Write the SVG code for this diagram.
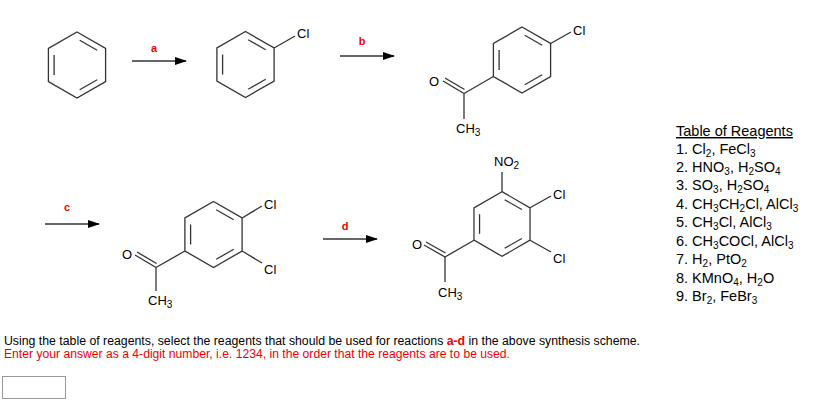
<svg xmlns="http://www.w3.org/2000/svg" width="823" height="409" viewBox="0 0 823 409">
<style>
.b{stroke:#333;stroke-width:1.3;fill:none}
.t{font-family:"Liberation Sans",Arial,sans-serif;font-size:13px;fill:#000}
.r{font-family:"Liberation Sans",Arial,sans-serif;font-size:11px;font-weight:bold;fill:#e00;text-anchor:middle}
.g{font-family:"Liberation Sans",Arial,sans-serif;font-size:14.5px;fill:#000}
.s{font-size:10px}
.q{font-family:"Liberation Sans",Arial,sans-serif;font-size:12.5px}
</style>
<defs>
<g id="ring" class="b">
<polygon points="0,-33 28.6,-16.5 28.6,16.5 0,33 -28.6,16.5 -28.6,-16.5"/>
<line x1="-22.9" y1="-10" x2="-22.9" y2="10"/>
<line x1="2.7" y1="-24.8" x2="20.2" y2="-14.8"/>
<line x1="20.2" y1="14.8" x2="2.7" y2="24.8"/>
</g>
<marker id="ah" markerWidth="12" markerHeight="8" refX="11" refY="4" orient="auto" markerUnits="userSpaceOnUse"><path d="M0,0 L12,4 L0,8 Z" fill="#000"/></marker>
</defs>
<rect width="823" height="409" fill="#fff"/>
<g id="connectors">
<line x1="132" y1="61" x2="186" y2="61" stroke="#333" stroke-width="1.5" marker-end="url(#ah)"/>
<text class="r" x="154" y="52">a</text>
<line x1="340" y1="56" x2="394" y2="56" stroke="#333" stroke-width="1.5" marker-end="url(#ah)"/>
<text class="r" x="362" y="45">b</text>
<line x1="45" y1="224" x2="99" y2="224" stroke="#333" stroke-width="1.5" marker-end="url(#ah)"/>
<text class="r" x="67" y="211">c</text>
<line x1="323" y1="239" x2="377" y2="239" stroke="#333" stroke-width="1.5" marker-end="url(#ah)"/>
<text class="r" x="345" y="230">d</text>
</g>
<g id="benzene"><use href="#ring" transform="translate(77,65)"/></g>
<g id="chlorobenzene">
<use href="#ring" transform="translate(245.5,64.5)"/>
<line class="b" x1="274.1" y1="48" x2="295" y2="36"/>
<text class="t" x="297" y="38">Cl</text>
</g>
<g id="chloroacetophenone">
<use href="#ring" transform="translate(522,60)"/>
<line class="b" x1="550.6" y1="43.5" x2="571" y2="32"/>
<text class="t" x="573" y="35">Cl</text>
<line class="b" x1="493.4" y1="76.5" x2="464" y2="93.5"/>
<line class="b" x1="464" y1="93.5" x2="443" y2="81"/>
<line class="b" x1="464.5" y1="89.5" x2="445" y2="78"/>
<text class="t" x="434" y="86" text-anchor="middle">O</text>
<line class="b" x1="464" y1="93.5" x2="464" y2="119"/>
<text class="t" x="456" y="133">CH<tspan class="s" dy="3">3</tspan></text>
</g>
<g id="dichloroacetophenone">
<use href="#ring" transform="translate(213.5,234.5)"/>
<line class="b" x1="242.1" y1="218" x2="262" y2="206"/>
<text class="t" x="264" y="209">Cl</text>
<line class="b" x1="242.1" y1="251" x2="262" y2="263"/>
<text class="t" x="264" y="274">Cl</text>
<line class="b" x1="184.9" y1="251" x2="156" y2="267.5"/>
<line class="b" x1="156" y1="267.5" x2="135" y2="255"/>
<line class="b" x1="156.5" y1="263.5" x2="137" y2="252"/>
<text class="t" x="127" y="259" text-anchor="middle">O</text>
<line class="b" x1="156" y1="267.5" x2="156" y2="291"/>
<text class="t" x="148" y="305">CH<tspan class="s" dy="3">3</tspan></text>
</g>
<g id="nitro">
<use href="#ring" transform="translate(502,224) scale(0.98)"/>
<line class="b" x1="502" y1="191.5" x2="502" y2="172"/>
<text class="t" x="494" y="166">NO<tspan class="s" dy="3">2</tspan></text>
<line class="b" x1="530" y1="207.8" x2="551" y2="196"/>
<text class="t" x="553" y="199">Cl</text>
<line class="b" x1="530" y1="240.2" x2="551" y2="252"/>
<text class="t" x="553" y="263">Cl</text>
<line class="b" x1="474" y1="240.2" x2="445" y2="257"/>
<line class="b" x1="445" y1="257" x2="424" y2="245"/>
<line class="b" x1="445.5" y1="253" x2="426" y2="242"/>
<text class="t" x="417" y="249" text-anchor="middle">O</text>
<line class="b" x1="445" y1="257" x2="445" y2="282"/>
<text class="t" x="438" y="297">CH<tspan class="s" dy="3">3</tspan></text>
</g>
<g id="table">
<text class="g" x="676" y="136" text-decoration="underline">Table of Reagents</text>
<text class="g" x="676" y="154">1. Cl<tspan class="s" dy="3">2</tspan><tspan dy="-3">, FeCl</tspan><tspan class="s" dy="3">3</tspan></text>
<text class="g" x="676" y="172">2. HNO<tspan class="s" dy="3">3</tspan><tspan dy="-3">, H</tspan><tspan class="s" dy="3">2</tspan><tspan dy="-3">SO</tspan><tspan class="s" dy="3">4</tspan></text>
<text class="g" x="676" y="190">3. SO<tspan class="s" dy="3">3</tspan><tspan dy="-3">, H</tspan><tspan class="s" dy="3">2</tspan><tspan dy="-3">SO</tspan><tspan class="s" dy="3">4</tspan></text>
<text class="g" x="676" y="209">4. CH<tspan class="s" dy="3">3</tspan><tspan dy="-3">CH</tspan><tspan class="s" dy="3">2</tspan><tspan dy="-3">Cl, AlCl</tspan><tspan class="s" dy="3">3</tspan></text>
<text class="g" x="676" y="227">5. CH<tspan class="s" dy="3">3</tspan><tspan dy="-3">Cl, AlCl</tspan><tspan class="s" dy="3">3</tspan></text>
<text class="g" x="676" y="246">6. CH<tspan class="s" dy="3">3</tspan><tspan dy="-3">COCl, AlCl</tspan><tspan class="s" dy="3">3</tspan></text>
<text class="g" x="676" y="264">7. H<tspan class="s" dy="3">2</tspan><tspan dy="-3">, PtO</tspan><tspan class="s" dy="3">2</tspan></text>
<text class="g" x="676" y="283">8. KMnO<tspan class="s" dy="3">4</tspan><tspan dy="-3">, H</tspan><tspan class="s" dy="3">2</tspan><tspan dy="-3">O</tspan></text>
<text class="g" x="676" y="301">9. Br<tspan class="s" dy="3">2</tspan><tspan dy="-3">, FeBr</tspan><tspan class="s" dy="3">3</tspan></text>
</g>
<g id="question">
<text class="q" x="4" y="345" fill="#000" textLength="636" lengthAdjust="spacingAndGlyphs">Using the table of reagents, select the reagents that should be used for reactions <tspan fill="#e00" font-weight="bold">a-d</tspan> in the above synthesis scheme.</text>
<text class="q" x="4" y="358" fill="#e00" textLength="506" lengthAdjust="spacingAndGlyphs">Enter your answer as a 4-digit number, i.e. 1234, in the order that the reagents are to be used.</text>
<rect x="2.5" y="376.5" width="63" height="22" fill="#fff" stroke="#999"/>
</g>
</svg>
